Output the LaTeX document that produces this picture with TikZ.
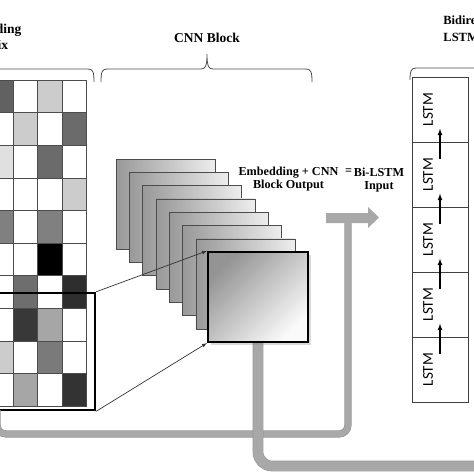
\documentclass[tikz,border=0pt]{standalone}
\usepackage{fontspec}
\setmainfont{Liberation Serif}
\newfontfamily\lstmfont{Carlito}
\usetikzlibrary{shadows,arrows}
\tikzstyle{arrow} = [-latex,draw=black!80,line width=.7pt]
\tikzstyle{upar} = [-latex,line width=1.2pt]
\tikzstyle{fmap} = [draw=black!70,line width=.6pt,minimum width=99pt,minimum height=90pt,inner sep=0pt,left color=black!40,right color=black!7]
\tikzstyle{lstmcell} = [draw=black!75,line width=.6pt,minimum width=56pt,minimum height=65pt,inner sep=0pt]
\tikzstyle{pipe} = [draw=black!42,line width=.6pt,double=black!34,rounded corners=9pt]
\tikzstyle{brace} = [draw=black!70,line width=.8pt]
\tikzstyle{lbl} = [font=\bfseries\fontsize{12.2}{13.5}\selectfont,align=center,inner sep=0pt]

\begin{document}
\begin{tikzpicture}[x=1pt,y=-1pt]
      \useasboundingbox (0,0) rectangle (474,474);
      \clip (0,0) rectangle (474,474);
      \def\cw{24.5}
      \def\ch{32.6}
      % embedding matrix
      \foreach \r/\vals in {0/{62,0,20,0},1/{0,20,0,58},2/{12,0,58,0},3/{0,0,0,20},4/{50,0,50,0},
                            5/{0,0,100,0},6/{0,57,0,82},7/{0,78,35,0},8/{20,0,52,0},9/{0,35,0,80}}{
        \foreach \v [count=\c from 0] in \vals
          \filldraw[fill=black!\v,draw=black!70,line width=.6pt]({-11.5+\c*\cw},{80+\r*\ch})rectangle++(\cw,\ch);
      }
      \node[draw,line width=2.5pt,minimum width=115pt,minimum height=117pt,inner sep=0pt](sel)at(37.5,351.5){};
      \node[font=\bfseries\fontsize{13.5}{16}\selectfont,align=center,inner sep=0pt](embt)at(-12,37){Embedding\\Matrix};
      % braces
      \draw[brace](-30,69)--(88,69)..controls(93,69)and(94,72)..(94,82);
      \draw[brace](101,82)..controls(101,72)and(102,69)..(107,69)--(201,69)..controls(205,69)and(207,67)..(207,54)
        ..controls(207,67)and(209,69)..(213,69)--(306,69)..controls(311,69)and(312,72)..(312,82);
      \draw[brace](410,80)..controls(410,71)and(411,68)..(416,68)--(490,68);
      \node[font=\bfseries\fontsize{13.5}{16}\selectfont,anchor=base](cnnt)at(207,42){CNN Block};
      \node[font=\bfseries\fontsize{12.5}{17}\selectfont,align=center,inner sep=0pt](lstmt)at(478,29){Bidirectional\\LSTM Block};
      % pipes
      \coordinate(tjoin)at(348,218);
      \draw[pipe,double distance=6pt](-3,410)--(-3,434)--(348,434)--(tjoin);
      \fill[black!34](326,213)--(368,213)--(368,207)--(379,217.5)--(368,228)--(368,223)--(326,223)--cycle;
      % feature maps
      \foreach \i in {1,...,7}
        \node[fmap](fm\i)at({165.5+(\i-1)*13.3},{204+(\i-1)*13.3}){};
      \draw[pipe,double distance=9.5pt,rounded corners=14pt](258,330)--(258,466)--(490,466);
      \node[draw,line width=2.2pt,minimum width=100pt,minimum height=90pt,inner sep=0pt,
            top color=black!42,bottom color=black!2,shading angle=45,
            drop shadow={opacity=.3,shadow xshift=2.5pt,shadow yshift=-2.5pt}](front)at(258,297){};
      \draw[arrow](sel.north east)--(front.north west);
      \draw[arrow](sel.south east)--(front.south west);
      \node[lbl](embout)at(288.5,179){Embedding + CNN\\Block Output};
      \node[lbl](eq)at(348.5,172){=};
      \node[lbl](lstmin)at(379,180){Bi-LSTM\\Input};
      % lstm column
      \foreach \i in {1,...,5}{
        \node[lstmcell](l\i)at(440,{109.5+(\i-1)*65}){};
        \node[rotate=90,inner sep=0pt,font=\lstmfont\fontsize{15}{16}\selectfont](lt\i)at([xshift=-12pt]l\i.center){LSTM};
      }
      \foreach \i [evaluate=\i as \j using int(\i+1)] in {1,...,4}
        \draw[upar]([yshift=-17pt]l\j.north)--([yshift=13pt]l\j.north);
    \end{tikzpicture}
\end{document}
